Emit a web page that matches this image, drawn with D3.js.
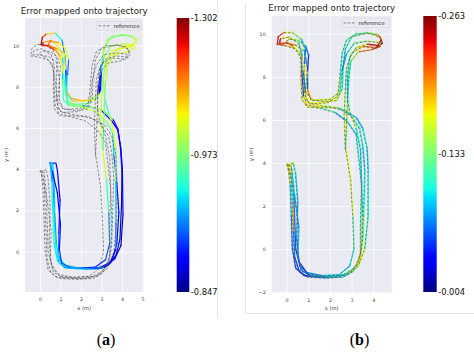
<!DOCTYPE html>
<html>
<head>
<meta charset="utf-8">
<script src="https://cdnjs.cloudflare.com/ajax/libs/d3/7.8.5/d3.min.js"></script>
<style>
  body { margin: 0; background: #fff; }
  svg { display: block; font-family: 'DejaVu Sans', sans-serif; }
</style>
</head>
<body>
<svg width="474" height="353"></svg>
<script>

// tick values / labels
let xTicksA = [0, 1, 2, 3, 4, 5];
let yTicksA = [0, 2, 4, 6, 8, 10];
let xTicksB = [0, 1, 2, 3, 4];
let yTicksB = [-2, 0, 2, 4, 6, 8, 10];
let errTicksA = [-0.847, -0.973, -1.302];
let errTicksB = [-0.004, -0.133, -0.263];
let errLabelsA = ['-0.847', '-0.973', '-1.302'];
let errLabelsB = ['-0.004', '-0.133', '-0.263'];
let panelTitle = 'Error mapped onto trajectory';
let legendLabel = 'reference';
let xLabel = 'x (m)';
let yLabel = 'y (m)';

// ground truth trajectory (x, y in m), three laps
let refLap1 = [[0.10,3.95],[0.20,3.40],[0.25,2.20],[0.30,0.80],[0.35,-0.40],[0.55,-1.05],[0.95,-1.30],[1.80,-1.35],
  [2.60,-1.30],[3.05,-1.05],[3.35,-0.55],[3.50,0.40],[3.55,2.00],[3.60,3.60],[3.50,4.80],[3.35,5.60],[2.95,6.20],
  [2.40,6.55],[1.60,6.65],[1.00,6.80],[0.80,7.30],[0.80,8.60],[0.85,9.25],[0.65,9.75],[0.25,10.05],[-0.15,10.05],
  [-0.40,9.85],[-0.45,9.50],[-0.10,9.45],[0.40,9.30],[0.65,8.90],[0.70,7.80],[0.75,7.05],[1.10,6.75],[1.90,6.80],
  [2.35,7.10],[2.45,8.00],[2.55,9.10],[2.75,9.70],[3.20,10.00],[3.85,10.00],[4.30,9.85],[4.40,9.55],[4.10,9.35],
  [3.50,9.40],[3.00,9.10],[2.75,8.40],[2.70,7.30],[2.65,6.20],[2.70,4.80],[2.95,3.20],[3.05,1.50],[3.10,0.00],
  [2.90,-0.80],[2.40,-1.20],[1.60,-1.25],[0.90,-1.10],[0.55,-0.60],[0.45,0.50],[0.50,2.20],[0.40,3.50],[0.30,4.00]];
let refLap2 = [[0.30,4.00],[0.05,3.85],[0.15,3.00],[0.20,1.50],[0.25,0.00],[0.40,-0.90],[0.80,-1.25],[1.50,-1.30],
  [2.30,-1.30],[2.90,-1.10],[3.25,-0.70],[3.45,0.00],[3.50,1.50],[3.45,3.00],[3.30,4.40],[3.20,5.30],[2.80,5.90],
  [2.20,6.35],[1.50,6.55],[0.95,6.60],[0.70,6.95],[0.65,8.00],[0.70,9.00],[0.55,9.55],[0.10,9.85],[-0.30,9.75],
  [-0.35,9.55],[0.05,9.55],[0.45,9.45],[0.80,9.20],[0.95,8.40],[0.95,7.40],[1.10,6.95],[1.70,6.85],[2.30,6.90],
  [2.55,7.40],[2.60,8.50],[2.70,9.30],[3.00,9.85],[3.70,10.05],[4.20,9.95],[4.35,9.70],[4.20,9.45],[3.70,9.50],
  [3.20,9.35],[2.90,8.90],[2.80,8.00],[2.80,7.00],[2.90,6.40],[3.20,5.60],[3.40,4.60],[3.45,3.00],[3.40,1.00],
  [3.40,-0.30],[3.10,-0.90],[2.60,-1.20],[1.70,-1.25],[1.00,-1.20],[0.60,-0.80],[0.40,0.00],[0.35,1.50],[0.30,3.00],
  [0.20,3.85],[0.00,3.95]];
let refLap3 = [[0.00,3.95],[0.15,3.50],[0.35,2.50],[0.55,1.00],[0.50,-0.30],[0.65,-1.00],[1.10,-1.25],[2.00,-1.30],
  [2.80,-1.20],[3.30,-0.80],[3.60,0.00],[3.75,1.50],[3.75,3.70],[3.70,4.70],[3.50,5.60],[3.20,6.10],[2.70,6.40],
  [2.20,6.55],[1.40,6.60],[0.90,6.70],[0.85,7.20],[0.95,8.30],[1.00,9.00],[0.85,9.45],[0.50,9.70],[0.10,9.75],
  [-0.05,9.60],[0.30,9.40],[0.60,9.10],[0.75,8.20],[0.85,7.30],[1.20,6.90],[2.00,6.95],[2.45,7.30],[2.55,8.30],
  [2.75,9.05],[3.10,9.55],[3.70,9.65],[4.20,9.60],[4.30,9.40],[3.90,9.25],[3.30,9.15],[2.95,8.70],[2.85,7.80],
  [2.80,6.80],[2.75,5.50],[2.70,4.60]];

// estimate (a): x, y, error
let estA1 = [[0.52,4.30,-0.92],[0.62,3.80,-0.91],[0.66,2.60,-0.93],[0.70,1.20,-0.94],[0.78,0.00,-0.93],[0.95,-0.55,-0.92],
  [1.35,-0.80,-0.93],[2.20,-0.85,-0.92],[3.00,-0.82,-0.90],[3.40,-0.60,-0.88],[3.72,-0.15,-0.87],[3.90,0.60,-0.86],
  [3.98,2.30,-0.86],[4.00,3.90,-0.87],[3.92,5.10,-0.86],[3.80,5.90,-0.87],[3.50,6.35,-0.88],[2.95,6.90,-0.92],
  [2.05,7.10,-0.97],[1.45,7.20,-0.96],[1.30,7.50,-0.94],[1.28,8.60,-0.89],[1.22,9.45,-0.91],[1.08,10.25,-0.94],
  [0.75,10.60,-1.10],[0.30,10.55,-1.20],[0.12,10.40,-1.29],[0.05,10.05,-1.30],[0.35,10.00,-1.22],[0.80,9.75,-1.12],
  [1.05,9.30,-1.05],[1.15,8.20,-1.05],[1.30,7.40,-1.00],[1.60,7.15,-0.97],[2.40,7.20,-0.96],[2.80,7.55,-0.88],
  [2.90,8.30,-0.89],[3.00,9.10,-1.02],[3.15,9.90,-1.00],[3.50,10.45,-0.98],[4.20,10.50,-0.99],[4.60,10.40,-1.01],
  [4.70,10.20,-1.04],[4.45,9.95,-1.06],[3.95,9.85,-1.05],[3.35,9.45,-1.03],[3.10,8.70,-0.99],[3.02,7.70,-1.03],
  [2.98,6.80,-1.05],[3.02,5.20,-1.04],[3.25,3.50,-0.95],[3.35,1.90,-0.92],[3.40,0.40,-0.90],[3.20,-0.40,-0.89],
  [2.70,-0.75,-0.90],[1.90,-0.80,-0.92],[1.20,-0.65,-0.93],[0.90,-0.20,-0.91],[0.92,0.90,-0.88],[0.98,2.50,-0.87],
  [0.85,3.95,-0.88],[0.78,4.30,-0.89]];
let estA2 = [[0.75,4.30,-0.89],[0.50,4.28,-0.92],[0.58,3.40,-0.94],[0.62,1.90,-0.95],[0.68,0.40,-0.94],[0.85,-0.45,-0.93],
  [1.20,-0.78,-0.92],[1.90,-0.82,-0.90],[2.70,-0.83,-0.89],[3.25,-0.70,-0.88],[3.55,-0.30,-0.87],[3.75,0.40,-0.87],
  [3.85,1.90,-0.88],[3.75,3.30,-0.90],[3.60,4.70,-0.93],[3.55,5.75,-0.96],[3.25,6.30,-1.02],[2.70,6.80,-1.03],
  [1.90,7.05,-1.00],[1.40,7.10,-0.96],[1.15,7.35,-0.95],[1.10,8.40,-0.93],[1.12,9.40,-1.02],[0.95,9.90,-1.08],
  [0.55,10.25,-1.14],[0.15,10.15,-1.24],[0.12,10.00,-1.22],[0.45,10.00,-1.15],[0.85,9.85,-1.10],[1.20,9.60,-1.04],
  [1.25,8.80,-0.90],[1.30,7.80,-1.12],[1.50,7.45,-1.13],[2.10,7.30,-1.05],[2.70,7.35,-0.98],[2.95,7.80,-0.88],
  [3.00,8.80,-0.99],[3.08,9.70,-1.00],[3.30,10.30,-0.98],[4.00,10.55,-0.99],[4.50,10.45,-1.02],[4.72,10.30,-1.05],
  [4.55,10.05,-1.06],[4.05,9.95,-1.04],[3.50,9.70,-1.02],[3.20,9.25,-1.01],[3.10,8.40,-0.98],[3.15,7.40,-0.95],
  [3.40,6.60,-1.04],[3.55,6.00,-1.06],[3.70,5.00,-0.97],[3.70,3.40,-0.93],[3.70,1.40,-0.91],[3.70,0.10,-0.88],
  [3.45,-0.50,-0.87],[2.90,-0.78,-0.88],[2.00,-0.80,-0.91],[1.35,-0.75,-0.93],[0.95,-0.40,-0.93],[0.80,0.40,-0.92],
  [0.72,1.90,-0.93],[0.70,3.40,-0.93],[0.62,4.25,-0.92],[0.48,4.32,-0.92]];
let estA3 = [[0.48,4.32,-0.92],[0.60,3.90,-0.88],[0.85,2.85,-0.87],[1.00,1.30,-0.88],[0.95,0.10,-0.89],[1.05,-0.55,-0.90],
  [1.50,-0.78,-0.92],[2.40,-0.82,-0.91],[3.15,-0.75,-0.88],[3.65,-0.35,-0.86],[3.95,0.30,-0.86],[4.05,1.80,-0.87],
  [4.02,4.00,-0.88],[3.95,5.00,-0.87],[3.80,5.95,-0.88],[3.55,6.45,-0.99],[3.10,6.85,-1.02],[2.60,7.00,-0.99],
  [1.80,7.05,-0.97],[1.35,7.15,-0.95],[1.28,7.60,-0.94],[1.35,8.60,-0.91],[1.40,9.35,-1.05],[1.25,9.85,-1.08],
  [0.90,10.15,-1.15],[0.50,10.20,-1.18],[0.40,10.05,-1.16],[0.70,9.85,-1.12],[1.00,9.50,-1.06],[1.15,8.60,-0.95],
  [1.25,7.70,-0.95],[1.60,7.30,-1.10],[2.40,7.35,-1.03],[2.90,7.70,-0.87],[2.95,8.60,-0.93],[3.10,9.40,-0.99],
  [3.45,9.95,-1.01],[4.05,10.10,-1.03],[4.55,10.05,-1.05],[4.65,9.90,-1.06],[4.25,9.70,-1.05],[3.65,9.55,-1.03],
  [3.30,9.05,-1.02],[3.20,8.20,-0.98],[3.15,7.20,-0.97],[3.10,5.90,-0.95],[3.08,4.95,-0.93]];

// estimate (b): x, y, error
let estB1 = [[0.12,3.98,-0.17],[0.22,3.42,-0.10],[0.28,2.22,-0.20],[0.32,0.82,-0.07],[0.38,-0.38,-0.05],[0.58,-1.02,-0.06],
  [0.97,-1.28,-0.08],[1.82,-1.33,-0.09],[2.62,-1.28,-0.10],[3.08,-1.02,-0.14],[3.38,-0.52,-0.17],[3.53,0.42,-0.12],
  [3.58,2.02,-0.10],[3.62,3.62,-0.09],[3.52,4.82,-0.11],[3.38,5.62,-0.10],[2.98,6.22,-0.09],[2.42,6.58,-0.15],
  [1.62,6.68,-0.17],[1.02,6.82,-0.16],[0.82,7.32,-0.18],[0.83,8.62,-0.06],[0.88,9.27,-0.08],[0.68,9.78,-0.14],
  [0.28,10.08,-0.16],[-0.12,10.07,-0.22],[-0.38,9.88,-0.24],[-0.43,9.52,-0.22],[-0.08,9.47,-0.19],[0.42,9.32,-0.16],
  [0.68,8.92,-0.06],[0.73,7.82,-0.05],[0.78,7.07,-0.16],[1.12,6.77,-0.17],[1.92,6.82,-0.16],[2.37,7.12,-0.14],
  [2.48,8.02,-0.10],[2.58,9.12,-0.11],[2.78,9.72,-0.12],[3.22,10.02,-0.13],[3.87,10.02,-0.15],[4.32,9.87,-0.22],
  [4.42,9.57,-0.26],[4.12,9.37,-0.21],[3.52,9.42,-0.18],[3.02,9.12,-0.15],[2.78,8.42,-0.12],[2.72,7.32,-0.15],
  [2.67,6.22,-0.17],[2.72,4.82,-0.17],[2.97,3.22,-0.16],[3.07,1.52,-0.12],[3.12,0.02,-0.10],[2.92,-0.78,-0.09],
  [2.42,-1.18,-0.08],[1.62,-1.23,-0.07],[0.92,-1.08,-0.05],[0.57,-0.58,-0.06],[0.47,0.52,-0.08],[0.52,2.22,-0.09],
  [0.42,3.52,-0.12],[0.32,4.02,-0.15]];
let estB2 = [[0.32,4.02,-0.15],[0.07,3.87,-0.18],[0.17,3.02,-0.09],[0.22,1.52,-0.07],[0.27,0.02,-0.06],[0.42,-0.88,-0.05],
  [0.82,-1.23,-0.04],[1.52,-1.28,-0.07],[2.32,-1.28,-0.09],[2.92,-1.08,-0.12],[3.27,-0.68,-0.18],[3.47,0.02,-0.15],
  [3.52,1.52,-0.10],[3.47,3.02,-0.11],[3.32,4.42,-0.10],[3.22,5.32,-0.09],[2.82,5.92,-0.08],[2.22,6.37,-0.12],
  [1.52,6.57,-0.16],[0.97,6.62,-0.18],[0.72,6.97,-0.17],[0.67,8.02,-0.20],[0.72,9.02,-0.09],[0.57,9.57,-0.14],
  [0.12,9.87,-0.18],[-0.28,9.77,-0.25],[-0.33,9.57,-0.23],[0.07,9.57,-0.20],[0.47,9.47,-0.15],[0.82,9.22,-0.08],
  [0.97,8.42,-0.05],[0.97,7.42,-0.20],[1.12,6.97,-0.16],[1.72,6.87,-0.17],[2.32,6.92,-0.15],[2.57,7.42,-0.10],
  [2.62,8.52,-0.09],[2.72,9.32,-0.11],[3.02,9.87,-0.12],[3.72,10.07,-0.14],[4.22,9.97,-0.20],[4.37,9.72,-0.25],
  [4.22,9.47,-0.24],[3.72,9.52,-0.17],[3.22,9.37,-0.13],[2.92,8.92,-0.10],[2.82,8.02,-0.09],[2.82,7.02,-0.12],
  [2.92,6.42,-0.16],[3.22,5.62,-0.10],[3.42,4.62,-0.09],[3.47,3.02,-0.11],[3.42,1.02,-0.12],[3.42,-0.28,-0.17],
  [3.12,-0.88,-0.13],[2.62,-1.18,-0.10],[1.72,-1.23,-0.08],[1.02,-1.18,-0.06],[0.62,-0.78,-0.05],[0.42,0.02,-0.06],
  [0.37,1.52,-0.07],[0.32,3.02,-0.09],[0.22,3.87,-0.16],[0.02,3.97,-0.18]];
let estB3 = [[0.02,3.97,-0.18],[0.17,3.52,-0.10],[0.37,2.52,-0.08],[0.57,1.02,-0.09],[0.52,-0.28,-0.07],[0.67,-0.98,-0.06],
  [1.12,-1.23,-0.09],[2.02,-1.28,-0.10],[2.82,-1.18,-0.14],[3.32,-0.78,-0.16],[3.62,0.02,-0.11],[3.77,1.52,-0.10],
  [3.77,3.72,-0.09],[3.72,4.72,-0.10],[3.52,5.62,-0.08],[3.22,6.12,-0.09],[2.72,6.42,-0.13],[2.22,6.57,-0.16],
  [1.42,6.62,-0.18],[0.92,6.72,-0.17],[0.87,7.22,-0.14],[0.97,8.32,-0.05],[1.02,9.02,-0.07],[0.87,9.47,-0.12],
  [0.52,9.72,-0.15],[0.12,9.77,-0.19],[-0.03,9.62,-0.21],[0.32,9.42,-0.17],[0.62,9.12,-0.13],[0.77,8.22,-0.07],
  [0.87,7.32,-0.19],[1.22,6.92,-0.16],[2.02,6.97,-0.15],[2.47,7.32,-0.11],[2.57,8.32,-0.08],[2.77,9.07,-0.10],
  [3.12,9.57,-0.13],[3.72,9.67,-0.15],[4.22,9.62,-0.19],[4.32,9.42,-0.23],[3.92,9.27,-0.20],[3.32,9.17,-0.15],
  [2.97,8.72,-0.11],[2.87,7.82,-0.10],[2.82,6.82,-0.14],[2.77,5.52,-0.12],[2.72,4.62,-0.11]];

// jet colormap
let jetR = d3.scaleLinear().domain([0, 0.35, 0.66, 0.89, 1]).range([0, 0, 1, 1, 0.5]).clamp(true);
let jetG = d3.scaleLinear().domain([0, 0.125, 0.375, 0.64, 0.91, 1]).range([0, 0, 1, 1, 0, 0]).clamp(true);
let jetB = d3.scaleLinear().domain([0, 0.11, 0.34, 0.65, 1]).range([0.5, 1, 1, 0, 0]).clamp(true);
function jet(t) {
  return d3.rgb(jetR(t) * 255, jetG(t) * 255, jetB(t) * 255).toString();
}

let svg = d3.select('svg');

let panels = [
  { id: 'a', left: 25, right: 143.5, top: 18, bottom: 292,
    xDomain: [-0.73, 5.05], yDomain: [-1.96, 11.34], xTicks: xTicksA, yTicks: yTicksA,
    est: [estA1, estA2, estA3], errTicks: errTicksA, errLabels: errLabelsA,
    cbX: 176.7, cbW: 12.6, cbTop: 18, cbBottom: 292,
    titleY: 13.5, yLabelX: 8, legend: { x: 96.5, y: 21.5, w: 45, h: 8.6 },
    tag: { x: 106, y: 345 } },
  { id: 'b', left: 271.7, right: 391.7, top: 16, bottom: 292.7,
    xDomain: [-0.69, 4.85], yDomain: [-2.02, 10.83], xTicks: xTicksB, yTicks: yTicksB,
    est: [estB1, estB2, estB3], errTicks: errTicksB, errLabels: errLabelsB,
    cbX: 423.3, cbW: 13.4, cbTop: 16, cbBottom: 292,
    titleY: 11, yLabelX: 252.5, legend: { x: 341.5, y: 18.3, w: 48, h: 9.2 },
    tag: { x: 359.5, y: 345 } }
];

// light frame lines of the sub-figures
svg.append('line').attr('x1', 217.5).attr('x2', 217.5).attr('y1', 0).attr('y2', 318)
  .attr('stroke', '#e6e6e6').attr('stroke-width', 1);
svg.append('line').attr('x1', 245.5).attr('x2', 245.5).attr('y1', 3).attr('y2', 313.5)
  .attr('stroke', '#e6e6e6').attr('stroke-width', 1);
svg.append('line').attr('x1', 245.5).attr('x2', 474).attr('y1', 313.5).attr('y2', 313.5)
  .attr('stroke', '#e6e6e6').attr('stroke-width', 1);

panels.forEach(function(p) {
  let g = svg.append('g');

  let xScale = d3.scaleLinear().domain(p.xDomain).range([p.left, p.right]);
  let yScale = d3.scaleLinear().domain(p.yDomain).range([p.bottom, p.top]);
  let tScale = d3.scaleLinear().domain(p.errTicks).range([0, 0.5, 1]).clamp(true);

  g.append('rect')
    .attr('x', p.left).attr('y', p.top)
    .attr('width', p.right - p.left).attr('height', p.bottom - p.top)
    .attr('fill', '#eaeaf2');

  let xAxis = d3.axisBottom(xScale)
                .tickValues(p.xTicks)
                .tickFormat(d3.format('d'))
                .tickSize(-(p.bottom - p.top))
                .tickPadding(5.5);
  let yAxis = d3.axisLeft(yScale)
                .tickValues(p.yTicks)
                .tickFormat(d3.format('d'))
                .tickSize(-(p.right - p.left))
                .tickPadding(6);

  let xg = g.append('g').attr('transform', 'translate(0,' + p.bottom + ')').call(xAxis);
  let yg = g.append('g').attr('transform', 'translate(' + p.left + ',0)').call(yAxis);
  [xg, yg].forEach(function(ax) {
    ax.select('.domain').remove();
    ax.selectAll('line').attr('stroke', '#fff').attr('stroke-width', 0.8);
    ax.selectAll('text').attr('fill', '#444').style('font-size', '4.8px')
      .style('font-family', 'DejaVu Sans');
  });

  let clipId = 'clip-' + p.id;
  g.append('clipPath').attr('id', clipId).append('rect')
    .attr('x', p.left).attr('y', p.top)
    .attr('width', p.right - p.left).attr('height', p.bottom - p.top);

  let plot = g.append('g').attr('clip-path', 'url(#' + clipId + ')');

  // estimated trajectory coloured by error
  p.est.forEach(function(path) {
    plot.append('g')
      .selectAll('line')
      .data(d3.pairs(path))
      .enter()
      .append('line')
      .attr('x1', function(d) { return xScale(d[0][0]); })
      .attr('y1', function(d) { return yScale(d[0][1]); })
      .attr('x2', function(d) { return xScale(d[1][0]); })
      .attr('y2', function(d) { return yScale(d[1][1]); })
      .attr('stroke', function(d) { return jet(tScale(d[0][2])); })
      .attr('stroke-width', 1.2)
      .attr('stroke-linecap', 'round');
  });

  // reference, dashed grey
  let refLine = d3.line()
                  .x(function(d) { return xScale(d[0]); })
                  .y(function(d) { return yScale(d[1]); });
  [refLap1, refLap2, refLap3].forEach(function(lap) {
    plot.append('path')
      .attr('d', refLine(lap))
      .attr('fill', 'none')
      .attr('stroke', '#555')
      .attr('stroke-opacity', 0.75)
      .attr('stroke-width', 0.9)
      .attr('stroke-dasharray', '2.6,1.6');
  });

  // legend
  let lg = g.append('g');
  lg.append('rect')
    .attr('x', p.legend.x).attr('y', p.legend.y)
    .attr('width', p.legend.w).attr('height', p.legend.h)
    .attr('rx', 1.2)
    .attr('fill', '#eaeaf2').attr('fill-opacity', 0.85)
    .attr('stroke', '#d0d0d8').attr('stroke-width', 0.5);
  lg.append('line')
    .attr('x1', p.legend.x + 2).attr('x2', p.legend.x + 13)
    .attr('y1', p.legend.y + p.legend.h / 2).attr('y2', p.legend.y + p.legend.h / 2)
    .attr('stroke', '#555').attr('stroke-opacity', 0.8)
    .attr('stroke-width', 0.9).attr('stroke-dasharray', '2.6,1.6');
  lg.append('text')
    .attr('x', p.legend.x + 17).attr('y', p.legend.y + p.legend.h / 2)
    .attr('dy', '0.35em')
    .style('font-size', '5.5px').attr('fill', '#333')
    .text(legendLabel);

  // title and axis labels
  g.append('text')
    .attr('x', (p.left + p.right) / 2).attr('y', p.titleY)
    .attr('text-anchor', 'middle')
    .style('font-size', '8.7px').attr('fill', '#222')
    .text(panelTitle);
  g.append('text')
    .attr('x', (p.left + p.right) / 2).attr('y', p.bottom + 17.5)
    .attr('text-anchor', 'middle')
    .style('font-size', '5.2px').attr('fill', '#444')
    .text(xLabel);
  g.append('text')
    .attr('transform', 'translate(' + p.yLabelX + ',' + ((p.top + p.bottom) / 2) + ') rotate(-90)')
    .attr('text-anchor', 'middle')
    .style('font-size', '5.2px').attr('fill', '#444')
    .text(yLabel);

  // colorbar
  let gradId = 'grad-' + p.id;
  let grad = svg.append('defs').append('linearGradient')
    .attr('id', gradId)
    .attr('x1', 0).attr('x2', 0).attr('y1', 1).attr('y2', 0);
  grad.selectAll('stop')
    .data(d3.range(0, 1.0001, 0.02))
    .enter()
    .append('stop')
    .attr('offset', function(d) { return d; })
    .attr('stop-color', function(d) { return jet(d); });

  g.append('rect')
    .attr('x', p.cbX).attr('y', p.cbTop)
    .attr('width', p.cbW).attr('height', p.cbBottom - p.cbTop)
    .attr('fill', 'url(#' + gradId + ')');

  let cbScale = d3.scaleLinear().domain(p.errTicks).range([p.cbBottom, (p.cbTop + p.cbBottom) / 2, p.cbTop]);
  g.selectAll('text.cb')
    .data(p.errTicks)
    .enter()
    .append('text')
    .attr('class', 'cb')
    .attr('x', p.cbX + p.cbW + 1.5)
    .attr('y', function(d) { return cbScale(d); })
    .attr('dy', '0.35em')
    .style('font-size', '8.3px').attr('fill', '#111')
    .text(function(d, i) { return p.errLabels[i]; });

  // sub-figure tag
  let tag = g.append('text')
    .attr('x', p.tag.x).attr('y', p.tag.y)
    .attr('text-anchor', 'middle')
    .style('font-family', 'Liberation Serif, serif')
    .style('font-size', '16px').attr('fill', '#000');
  tag.append('tspan').text('(');
  tag.append('tspan').style('font-weight', 'bold').text(p.id);
  tag.append('tspan').text(')');
});

</script>
</body>
</html>
